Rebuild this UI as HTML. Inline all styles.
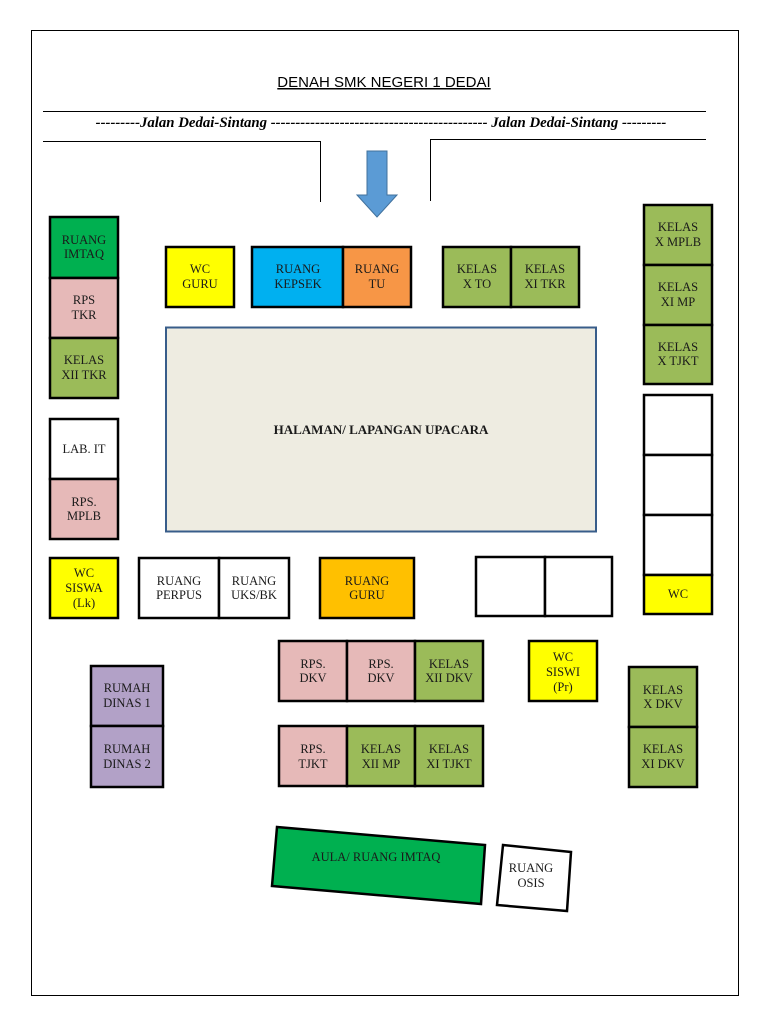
<!DOCTYPE html>
<html><head><meta charset="utf-8"><style>
html,body{margin:0;padding:0;background:#fff;}
svg{display:block;}
text{font-family:"Liberation Serif",serif;font-size:12.5px;fill:#1a1a1a;text-anchor:middle;}
.b{stroke:#000;stroke-width:2.5;}
</style></head><body>
<svg width="768" height="1024" viewBox="0 0 768 1024" xmlns="http://www.w3.org/2000/svg">
<rect x="31.5" y="30.5" width="707" height="965" fill="none" stroke="#000" stroke-width="1"/>
<text x="384" y="87" style="font-family:'Liberation Sans',sans-serif;font-size:15px;text-decoration:underline;fill:#000">DENAH SMK NEGERI 1 DEDAI</text>
<line x1="43" y1="111.5" x2="706" y2="111.5" stroke="#000" stroke-width="1"/>
<text x="381" y="127" style="font-style:italic;font-weight:bold;font-size:14.8px;fill:#000">---------Jalan Dedai-Sintang -------------------------------------------- Jalan Dedai-Sintang ---------</text>
<polyline points="43,141.5 320.5,141.5 320.5,202" fill="none" stroke="#000" stroke-width="1"/>
<polyline points="706,139.5 430.5,139.5 430.5,201" fill="none" stroke="#000" stroke-width="1"/>
<polygon points="367,151 387,151 387,195 397,195 377,217 357,195 367,195" fill="#5b9bd5" stroke="#41719c" stroke-width="1"/>

<rect class="b" x="50" y="217" width="68" height="61" fill="#00b050"/>
<text x="84" y="244">RUANG</text><text x="84" y="258">IMTAQ</text>
<rect class="b" x="50" y="278" width="68" height="60" fill="#e6b9b8"/>
<text x="84" y="304">RPS</text><text x="84" y="319">TKR</text>
<rect class="b" x="50" y="338" width="68" height="60" fill="#9bbb59"/>
<text x="84" y="364">KELAS</text><text x="84" y="379">XII TKR</text>
<rect class="b" x="50" y="419" width="68" height="60" fill="#fff"/>
<text x="84" y="453">LAB. IT</text>
<rect class="b" x="50" y="479" width="68" height="60" fill="#e6b9b8"/>
<text x="84" y="506">RPS.</text><text x="84" y="520">MPLB</text>

<rect class="b" x="166" y="247" width="68" height="60" fill="#ffff00"/>
<text x="200" y="273">WC</text><text x="200" y="288">GURU</text>
<rect class="b" x="252" y="247" width="91" height="60" fill="#00b0f0"/>
<text x="298" y="273">RUANG</text><text x="298" y="288">KEPSEK</text>
<rect class="b" x="343" y="247" width="68" height="60" fill="#f79646"/>
<text x="377" y="273">RUANG</text><text x="377" y="288">TU</text>
<rect class="b" x="443" y="247" width="68" height="60" fill="#9bbb59"/>
<text x="477" y="273">KELAS</text><text x="477" y="288">X TO</text>
<rect class="b" x="511" y="247" width="68" height="60" fill="#9bbb59"/>
<text x="545" y="273">KELAS</text><text x="545" y="288">XI TKR</text>

<rect class="b" x="644" y="205" width="68" height="60" fill="#9bbb59"/>
<text x="678" y="231">KELAS</text><text x="678" y="246">X MPLB</text>
<rect class="b" x="644" y="265" width="68" height="60" fill="#9bbb59"/>
<text x="678" y="291">KELAS</text><text x="678" y="306">XI MP</text>
<rect class="b" x="644" y="325" width="68" height="59" fill="#9bbb59"/>
<text x="678" y="351">KELAS</text><text x="678" y="365">X TJKT</text>
<rect class="b" x="644" y="395" width="68" height="60" fill="#fff"/>
<rect class="b" x="644" y="455" width="68" height="60" fill="#fff"/>
<rect class="b" x="644" y="515" width="68" height="60" fill="#fff"/>
<rect class="b" x="644" y="575" width="68" height="39" fill="#ffff00"/>
<text x="678" y="598">WC</text>

<rect x="166" y="327.5" width="430" height="204" fill="#eeece1" stroke="#385d8a" stroke-width="2"/>
<text x="381" y="434" style="font-weight:bold;font-size:13px">HALAMAN/ LAPANGAN UPACARA</text>

<rect class="b" x="50" y="558" width="68" height="60" fill="#ffff00"/>
<text x="84" y="577">WC</text><text x="84" y="592">SISWA</text><text x="84" y="607">(Lk)</text>
<rect class="b" x="139" y="558" width="80" height="60" fill="#fff"/>
<text x="179" y="585">RUANG</text><text x="179" y="599">PERPUS</text>
<rect class="b" x="219" y="558" width="70" height="60" fill="#fff"/>
<text x="254" y="585">RUANG</text><text x="254" y="599">UKS/BK</text>
<rect class="b" x="320" y="558" width="94" height="60" fill="#ffc000"/>
<text x="367" y="585">RUANG</text><text x="367" y="599">GURU</text>
<rect class="b" x="476" y="557" width="69" height="59" fill="#fff"/>
<rect class="b" x="545" y="557" width="67" height="59" fill="#fff"/>

<rect class="b" x="279" y="641" width="68" height="60" fill="#e6b9b8"/>
<text x="313" y="668">RPS.</text><text x="313" y="682">DKV</text>
<rect class="b" x="347" y="641" width="68" height="60" fill="#e6b9b8"/>
<text x="381" y="668">RPS.</text><text x="381" y="682">DKV</text>
<rect class="b" x="415" y="641" width="68" height="60" fill="#9bbb59"/>
<text x="449" y="668">KELAS</text><text x="449" y="682">XII DKV</text>
<rect class="b" x="529" y="641" width="68" height="60" fill="#ffff00"/>
<text x="563" y="661">WC</text><text x="563" y="676">SISWI</text><text x="563" y="691">(Pr)</text>

<rect class="b" x="91" y="666" width="72" height="60" fill="#b2a1c7"/>
<text x="127" y="692">RUMAH</text><text x="127" y="707">DINAS 1</text>
<rect class="b" x="91" y="726" width="72" height="61" fill="#b2a1c7"/>
<text x="127" y="753">RUMAH</text><text x="127" y="768">DINAS 2</text>

<rect class="b" x="629" y="667" width="68" height="60" fill="#9bbb59"/>
<text x="663" y="694">KELAS</text><text x="663" y="708">X DKV</text>
<rect class="b" x="629" y="727" width="68" height="60" fill="#9bbb59"/>
<text x="663" y="753">KELAS</text><text x="663" y="768">XI DKV</text>

<rect class="b" x="279" y="726" width="68" height="60" fill="#e6b9b8"/>
<text x="313" y="753">RPS.</text><text x="313" y="768">TJKT</text>
<rect class="b" x="347" y="726" width="68" height="60" fill="#9bbb59"/>
<text x="381" y="753">KELAS</text><text x="381" y="768">XII MP</text>
<rect class="b" x="415" y="726" width="68" height="60" fill="#9bbb59"/>
<text x="449" y="753">KELAS</text><text x="449" y="768">XI TJKT</text>

<polygon class="b" points="277,827 485,845 481,904 272,886" fill="#00b050"/>
<text x="376" y="861">AULA/ RUANG IMTAQ</text>
<polygon class="b" points="503,845 571,852 567,911 497,905" fill="#fff"/>
<text x="531" y="872">RUANG</text><text x="531" y="887">OSIS</text>
</svg>
</body></html>
